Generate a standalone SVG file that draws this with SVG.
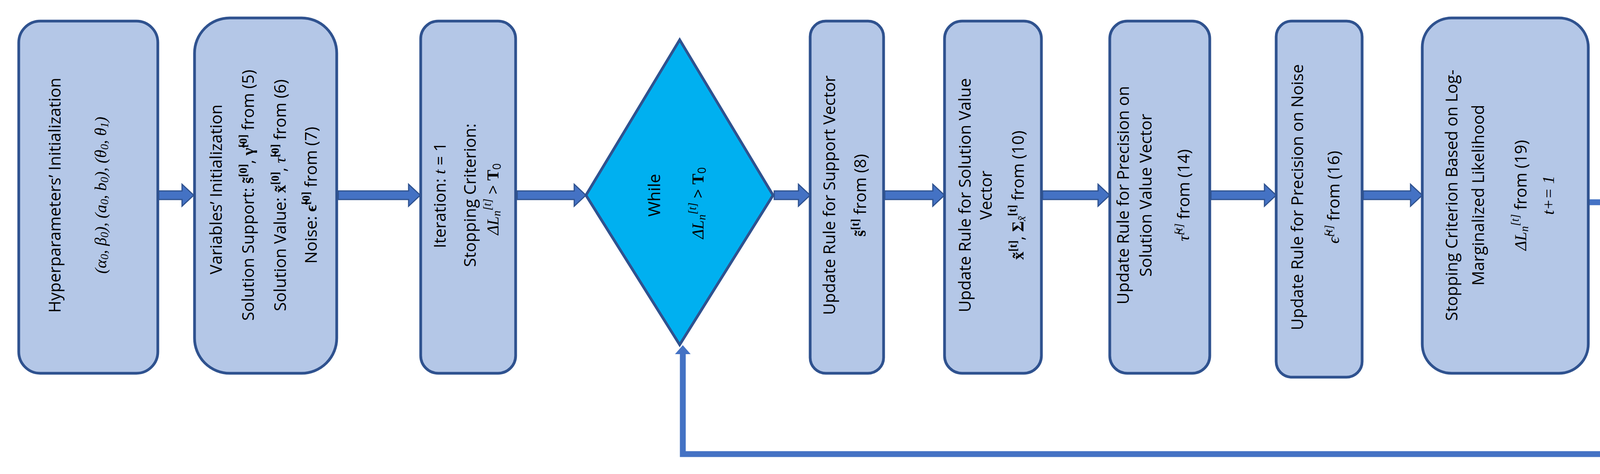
<svg xmlns="http://www.w3.org/2000/svg" width="4223" height="1214" viewBox="0 0 4223 1214">
<style>
.box{fill:#B4C7E7;stroke:#2F528F;stroke-width:7}
.dia{fill:#00B0F0;stroke:#2F528F;stroke-width:7}
.t{font-family:"Open Sans","Noto Sans",sans-serif;font-size:42px;fill:#000;text-anchor:middle;dominant-baseline:middle}
.m{font-family:"Liberation Serif",serif;font-style:italic}
.b{font-family:"Liberation Serif",serif;font-weight:bold}
.arr{fill:#4472C4;stroke:#2F528F;stroke-width:3}
.sup{font-size:29px}
</style>
<g id="connectors">
<path class="arr" d="M406,489 H466 V472 L496,500 L466,528 V511 H406 Z"/>
<path class="arr" d="M866,489 H1046 V472 L1076,500 L1046,528 V511 H866 Z"/>
<path class="arr" d="M1324,489 H1470 V472 L1500,500 L1470,528 V511 H1324 Z"/>
<path class="arr" d="M1982,489 H2044 V472 L2074,500 L2044,528 V511 H1982 Z"/>
<path class="arr" d="M2265,489 H2388 V472 L2418,500 L2388,528 V511 H2265 Z"/>
<path class="arr" d="M2669,489 H2811 V472 L2841,500 L2811,528 V511 H2669 Z"/>
<path class="arr" d="M3100,489 H3237 V472 L3267,500 L3237,528 V511 H3100 Z"/>
<path class="arr" d="M3490,489 H3611 V472 L3641,500 L3611,528 V511 H3490 Z"/>
<polyline points="4068,518 4188,518 4188,1163 1748,1163 1748,906" fill="none" stroke="#4472C4" stroke-width="15"/>
<polygon points="1728,907 1768,907 1748,884" fill="#4472C4"/>
</g>
<g id="n1"><rect class="box" x="48" y="54" width="356" height="902" rx="55"/>
<text class="t" transform="translate(144,500) rotate(-90)">Hyperparameters’ Initialization</text>
<text class="t m" transform="translate(262,500) rotate(-90)">(α<tspan class="sup" dy="8">0</tspan><tspan dy="-8">, β</tspan><tspan class="sup" dy="8">0</tspan><tspan dy="-8">), (a</tspan><tspan class="sup" dy="8">0</tspan><tspan dy="-8">, b</tspan><tspan class="sup" dy="8">0</tspan><tspan dy="-8">), (θ</tspan><tspan class="sup" dy="8">0</tspan><tspan dy="-8">, θ</tspan><tspan class="sup" dy="8">1</tspan><tspan dy="-8">)</tspan></text>
</g>
<g id="n2"><rect class="box" x="498" y="46" width="364" height="910" rx="90"/>
<text class="t" transform="translate(557,485) rotate(-90)">Variables’ Initialization</text>
<text class="t" transform="translate(639,500) rotate(-90)">Solution Support: <tspan class="b">s̃</tspan><tspan class="b sup" dy="-14">[0]</tspan><tspan dy="14">, </tspan><tspan class="b">γ̃</tspan><tspan class="b sup" dy="-14">[0]</tspan><tspan dy="14"> from (5)</tspan></text>
<text class="t" transform="translate(721,500) rotate(-90)">Solution Value: <tspan class="b">x̃</tspan><tspan class="b sup" dy="-14">[0]</tspan><tspan dy="14">, </tspan><tspan class="m">τ̃</tspan><tspan class="b sup" dy="-14">[0]</tspan><tspan dy="14"> from (6)</tspan></text>
<text class="t" transform="translate(800,500) rotate(-90)">Noise: <tspan class="b">ϵ̃</tspan><tspan class="b sup" dy="-14">[0]</tspan><tspan dy="14"> from (7)</tspan></text>
</g>
<g id="n3"><rect class="box" x="1077" y="54" width="243" height="902" rx="45"/>
<text class="t" transform="translate(1130,500) rotate(-90)">Iteration: <tspan class="m">t</tspan> = 1</text>
<text class="t" transform="translate(1207,500) rotate(-90)">Stopping Criterion:</text>
<text class="t" transform="translate(1266,510) rotate(-90)"><tspan class="m">ΔL</tspan><tspan class="m sup" dy="8">n</tspan><tspan class="m sup" dy="-24">[t]</tspan><tspan dy="16"> &gt; </tspan><tspan class="b">T</tspan><tspan class="sup" dy="8">0</tspan></text>
</g>
<g id="n4"><polygon class="dia" points="1500,500 1740,102 1979,500 1740,883"/>
<text class="t" transform="translate(1679,500) rotate(-90)">While</text>
<text class="t" transform="translate(1791,520) rotate(-90)"><tspan class="m">ΔL</tspan><tspan class="m sup" dy="8">n</tspan><tspan class="m sup" dy="-24">[t]</tspan><tspan dy="16"> &gt; </tspan><tspan class="b">T</tspan><tspan class="sup" dy="8">0</tspan></text>
</g>
<g id="n5"><rect class="box" x="2074" y="54" width="188" height="902" rx="40"/>
<text class="t" transform="translate(2127,500) rotate(-90)">Update Rule for Support Vector</text>
<text class="t" transform="translate(2206,500) rotate(-90)"><tspan class="b">s̃</tspan><tspan class="b sup" dy="-14">[t]</tspan><tspan dy="14"> from (8)</tspan></text>
</g>
<g id="n6"><rect class="box" x="2418" y="54" width="248" height="902" rx="45"/>
<text class="t" transform="translate(2474,500) rotate(-90)">Update Rule for Solution Value</text>
<text class="t" transform="translate(2528,500) rotate(-90)">Vector</text>
<text class="t" transform="translate(2610,500) rotate(-90)"><tspan class="b">x̃</tspan><tspan class="b sup" dy="-14">[t]</tspan><tspan dy="14">,  </tspan><tspan class="b">Σ</tspan><tspan class="m sup" dy="8">x̃</tspan><tspan class="b sup" dy="-24">[t]</tspan><tspan dy="16"> from (10)</tspan></text>
</g>
<g id="n7"><rect class="box" x="2841" y="54" width="256" height="902" rx="45"/>
<text class="t" transform="translate(2879,500) rotate(-90)">Update Rule for Precision on</text>
<text class="t" transform="translate(2937,500) rotate(-90)">Solution Value Vector</text>
<text class="t" transform="translate(3034,500) rotate(-90)"><tspan class="m">τ̃</tspan><tspan class="m sup" dy="-14">[t]</tspan><tspan dy="14"> from (14)</tspan></text>
</g>
<g id="n8"><rect class="box" x="3267" y="54" width="220" height="912" rx="40"/>
<text class="t" transform="translate(3325,505) rotate(-90)">Update Rule for Precision on Noise</text>
<text class="t" transform="translate(3418,505) rotate(-90)"><tspan class="m">ϵ̃</tspan><tspan class="m sup" dy="-14">[t]</tspan><tspan dy="14"> from (16)</tspan></text>
</g>
<g id="n9"><rect class="box" x="3641" y="46" width="425" height="910" rx="75"/>
<text class="t" transform="translate(3720,500) rotate(-90)">Stopping Criterion Based on Log-</text>
<text class="t" transform="translate(3788,500) rotate(-90)">Marginalized Likelihood</text>
<text class="t" transform="translate(3897,500) rotate(-90)"><tspan class="m">ΔL</tspan><tspan class="m sup" dy="8">n</tspan><tspan class="m sup" dy="-24">[t]</tspan><tspan dy="16">   from (19)</tspan></text>
<text class="t m" transform="translate(3968,500) rotate(-90)">t+= 1</text>
</g>
</svg>
